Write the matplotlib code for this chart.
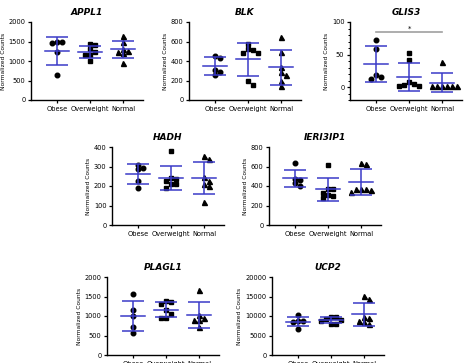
import numpy as np
import matplotlib
matplotlib.use("Agg")
import matplotlib.pyplot as plt
from matplotlib.ticker import MultipleLocator

groups = ["Obese", "Overweight", "Normal"]
genes = ["APPL1", "BLK", "GLIS3", "HADH", "IERI3IP1", "PLAGL1", "UCP2"]

# normalized counts per group (obese, overweight, normal)
appl1 = [[1500, 1460, 1480, 1220, 640],
         [1430, 1400, 1310, 1225, 1155, 1165, 1000],
         [1630, 1500, 1310, 1267, 1241, 1198, 957]]
blk = [[455, 431, 310, 290, 252],
       [572, 521, 514, 479, 479, 190, 155],
       [645, 490, 341, 283, 255, 193, 141]]
glis3 = [[72, 59, 18, 12, 15],
         [53, 41, 8, 4, 1.5, 1.5, 3],
         [39, 1, 1, 1, 1, 1, 1]]
hadh = [[293, 310, 285, 225, 188],
        [378, 234, 241, 225, 210, 210, 190],
        [353, 337, 244, 227, 200, 210, 117]]
ieri3ip1 = [[631, 458, 475, 427, 400],
            [620, 373, 373, 305, 275, 332, 298],
            [641, 627, 373, 369, 369, 339, 363]]
plagl1 = [[1566, 1149, 1004, 715, 570],
          [1379, 1362, 1302, 1157, 1047, 960, 950],
          [1677, 1013, 953, 894, 894, 723]]
ucp2 = [[10260, 8696, 8696, 8348, 6783],
        [9217, 9739, 9739, 9043, 8696, 8000, 8000],
        [15043, 14348, 9739, 9391, 8348, 7826, 8696]]

datasets = [appl1, blk, glis3, hadh, ieri3ip1, plagl1, ucp2]
ylims = [(0, 2000), (0, 800), (-20, 100), (0, 400), (0, 800), (0, 2000), (0, 20000)]
ysteps = [500, 200, 50, 100, 200, 500, 5000]

W, H = 474, 363
# axes boxes in pixels: left, top
boxes = [(31, 22), (189, 22), (350, 22), (112, 147), (269, 147), (107, 277), (272, 277)]
aw, ah = 112, 78
px_per_unit = aw / 3.4

blue = "#3a3ac8"
markers = ["o", "s", "^"]


def swarm(vals, ylim, step_px=5.0, diam=4.3):
    # simple beeswarm in pixel space, returns x offsets in data units
    scale = ah / (ylim[1] - ylim[0])
    placed = []
    xs = np.zeros(len(vals))
    for i in np.argsort(vals)[::-1]:
        yp = vals[i] * scale
        k = 0
        while True:
            off = ((k + 1) // 2) * (1 if k % 2 else -1) * step_px if k else 0
            if all(abs(off - px) >= diam or abs(yp - py) >= diam for px, py in placed):
                break
            k += 1
        placed.append((off, yp))
        xs[i] = off / px_per_unit
    return xs


fig = plt.figure(figsize=(W / 100, H / 100), dpi=100)

for gene, data, ylim, ystep, (left, top) in zip(genes, datasets, ylims, ysteps, boxes):
    ax = fig.add_axes([left / W, 1 - (top + ah) / H, aw / W, ah / H])
    for g, vals in enumerate(data):
        vals = np.array(vals, dtype=float)
        xs = g + swarm(vals, ylim)
        ax.plot(xs, vals, linestyle="none", marker=markers[g], color="black",
                markersize=3.3 if g != 2 else 3.6, zorder=2)
        m, sd = vals.mean(), vals.std(ddof=1)
        ax.plot([g - 0.36, g + 0.36], [m, m], color=blue, lw=1.1, zorder=3)
        ax.errorbar(g, m, yerr=sd, color=blue, lw=1.1, capsize=8,
                    capthick=1.1, zorder=3)
    ax.set_xlim(-0.8, 2.6)
    ax.set_ylim(*ylim)
    ax.yaxis.set_major_locator(MultipleLocator(ystep))
    if gene == "GLIS3":
        ax.yaxis.set_minor_locator(MultipleLocator(10))
        ax.plot([0, 2], [84, 84], color="#a0a0a0", lw=1.2)
        ax.text(1, 85, "*", ha="center", va="bottom", fontsize=5)
    ax.set_xticks(range(3))
    ax.set_xticklabels(groups)
    for s in ["top", "right"]:
        ax.spines[s].set_visible(False)
    for s in ["left", "bottom"]:
        ax.spines[s].set_linewidth(1.0)
    ax.tick_params(axis="both", labelsize=4.8, width=0.9, length=2.5, pad=1.5)
    ax.tick_params(axis="y", which="minor", length=1.5, width=0.7)
    ax.set_ylabel("Normalized Counts", fontsize=4.3, labelpad=2)
    ax.set_title(gene, fontsize=6.5, fontweight="bold", style="italic", pad=5)

fig.savefig("out.png", dpi=100)
